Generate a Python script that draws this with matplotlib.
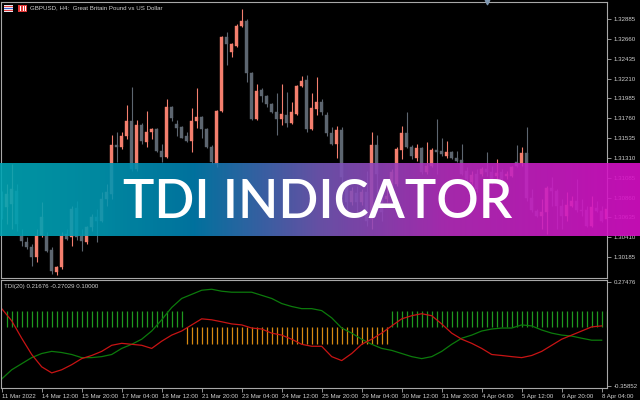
import numpy as np
import matplotlib
matplotlib.use("Agg")
import matplotlib.pyplot as plt
from matplotlib.colors import LinearSegmentedColormap
from matplotlib.patches import Rectangle

plt.rcParams["font.family"] = ["Liberation Sans", "DejaVu Sans"]

# GBPUSD H4 candles, 11 Mar 2022 .. 8 Apr 2022
opens = [1.30864, 1.30751, 1.30785, 1.30931, 1.30423, 1.30355, 1.30298, 1.30185, 1.30434, 1.30423,
         1.30264, 1.30015, 1.30072, 1.30445, 1.30411, 1.30739, 1.30423, 1.30355, 1.30524, 1.30637,
         1.30592, 1.30841, 1.30897, 1.31452, 1.31429, 1.31554, 1.31735, 1.31180, 1.31689, 1.31486,
         1.31610, 1.31644, 1.31384, 1.31316, 1.31893, 1.31701, 1.31667, 1.31554, 1.31497, 1.31735,
         1.31780, 1.31644, 1.31440, 1.31237, 1.31848, 1.32685, 1.32515, 1.32583, 1.32809, 1.32865,
         1.32277, 1.31757, 1.32085, 1.32017, 1.31927, 1.31836, 1.31757, 1.31802, 1.31712, 1.31814,
         1.32130, 1.32195, 1.31644, 1.31870, 1.31949, 1.31802, 1.31588, 1.31463, 1.31633, 1.31022,
         1.30807, 1.30909, 1.30807, 1.30920, 1.30615, 1.31452, 1.30897, 1.30841, 1.30875, 1.31011,
         1.31395, 1.31588, 1.31440, 1.31305, 1.31418, 1.31146, 1.31214, 1.31395, 1.31384, 1.31327,
         1.31373, 1.31305, 1.31282, 1.31158, 1.31033, 1.31124, 1.31124, 1.31180, 1.31146, 1.31101,
         1.31146, 1.31101, 1.31101, 1.31259, 1.31248, 1.31361, 1.30852, 1.30705, 1.30649, 1.30694,
         1.30965, 1.30931, 1.30762, 1.30649, 1.30762, 1.30818, 1.30717, 1.30717, 1.30535, 1.30739,
         1.30705, 1.30615]
highs = [1.30931, 1.31011, 1.31237, 1.31011, 1.30502, 1.30411, 1.30332, 1.30502, 1.30807, 1.30468,
         1.30298, 1.30083, 1.30468, 1.30502, 1.30762, 1.30818, 1.30502, 1.30535, 1.30671, 1.30728,
         1.30920, 1.31011, 1.31576, 1.31599, 1.31610, 1.31915, 1.32119, 1.31746, 1.31712, 1.31848,
         1.31655, 1.31655, 1.31474, 1.31983, 1.31904, 1.31746, 1.31678, 1.31610, 1.31882, 1.32108,
         1.31791, 1.31655, 1.31452, 1.31859, 1.32696, 1.32741, 1.32617, 1.32832, 1.33001, 1.32888,
         1.32289, 1.32153, 1.32108, 1.32029, 1.31938, 1.32051, 1.32153, 1.32062, 1.31949, 1.32142,
         1.32243, 1.32255, 1.32051, 1.32232, 1.31983, 1.31836, 1.31667, 1.31678, 1.31667, 1.31067,
         1.30977, 1.30988, 1.30954, 1.31158, 1.31610, 1.31565, 1.30988, 1.30988, 1.31180, 1.31429,
         1.31678, 1.31836, 1.31452, 1.31474, 1.31429, 1.31486, 1.31418, 1.31757, 1.31531, 1.31508,
         1.31384, 1.31384, 1.31463, 1.31203, 1.31158, 1.31180, 1.31203, 1.31373, 1.31214, 1.31293,
         1.31180, 1.31158, 1.31214, 1.31452, 1.31429, 1.31667, 1.30954, 1.30728, 1.30841, 1.30988,
         1.31090, 1.30954, 1.30841, 1.30920, 1.30875, 1.31067, 1.30841, 1.30762, 1.30875, 1.30818,
         1.30762, 1.30785]
lows = [1.30615, 1.30558, 1.30502, 1.30479, 1.30309, 1.30275, 1.30083, 1.30128, 1.30411, 1.30241,
        1.29993, 1.29981, 1.30049, 1.30377, 1.30309, 1.30377, 1.30253, 1.30332, 1.30479, 1.30355,
        1.30581, 1.30762, 1.30841, 1.31259, 1.31406, 1.31520, 1.31158, 1.31158, 1.31474, 1.31440,
        1.31520, 1.31373, 1.31259, 1.31305, 1.31735, 1.31554, 1.31531, 1.31486, 1.31373, 1.31655,
        1.31542, 1.31418, 1.31237, 1.31203, 1.31836, 1.32368, 1.32458, 1.32571, 1.32798, 1.32176,
        1.31746, 1.31746, 1.31949, 1.31893, 1.31825, 1.31565, 1.31689, 1.31667, 1.31701, 1.31802,
        1.32119, 1.31599, 1.31633, 1.31802, 1.31802, 1.31554, 1.31452, 1.31305, 1.31011, 1.30694,
        1.30773, 1.30694, 1.30773, 1.30535, 1.30502, 1.30694, 1.30592, 1.30807, 1.30841, 1.30988,
        1.31293, 1.31418, 1.31293, 1.31271, 1.31124, 1.31124, 1.31203, 1.31124, 1.31327, 1.31305,
        1.31293, 1.31259, 1.31112, 1.31045, 1.31011, 1.30920, 1.31101, 1.31101, 1.31011, 1.31067,
        1.31045, 1.31067, 1.31090, 1.31203, 1.31214, 1.30818, 1.30694, 1.30637, 1.30502, 1.30445,
        1.30762, 1.30502, 1.30502, 1.30592, 1.30751, 1.30694, 1.30649, 1.30524, 1.30524, 1.30694,
        1.30581, 1.30592]
closes = [1.30705, 1.30897, 1.30954, 1.30558, 1.30366, 1.30298, 1.30185, 1.30423, 1.30637, 1.30253,
          1.30027, 1.30072, 1.30423, 1.30389, 1.30728, 1.30411, 1.30366, 1.30524, 1.30637, 1.30592,
          1.30841, 1.30920, 1.31452, 1.31429, 1.31554, 1.31735, 1.31180, 1.31689, 1.31497, 1.31610,
          1.31644, 1.31384, 1.31316, 1.31893, 1.31768, 1.31655, 1.31542, 1.31497, 1.31735, 1.31780,
          1.31644, 1.31429, 1.31259, 1.31848, 1.32685, 1.32605, 1.32605, 1.32809, 1.32865, 1.32277,
          1.31757, 1.32074, 1.32017, 1.31927, 1.31836, 1.31757, 1.31814, 1.31712, 1.31836, 1.32130,
          1.32187, 1.31644, 1.31882, 1.31949, 1.31836, 1.31588, 1.31463, 1.31633, 1.31090, 1.30807,
          1.30931, 1.30807, 1.30920, 1.30592, 1.31452, 1.31124, 1.30694, 1.30875, 1.31146, 1.31406,
          1.31588, 1.31429, 1.31327, 1.31418, 1.31146, 1.31214, 1.31395, 1.31373, 1.31350, 1.31373,
          1.31305, 1.31271, 1.31124, 1.31067, 1.31112, 1.30954, 1.31180, 1.31146, 1.31067, 1.31135,
          1.31067, 1.31124, 1.31203, 1.31214, 1.31361, 1.30852, 1.30717, 1.30649, 1.30694, 1.30965,
          1.30931, 1.30762, 1.30649, 1.30773, 1.30818, 1.30717, 1.30705, 1.30535, 1.30751, 1.30705,
          1.30592, 1.30728]

price_ticks = [1.30185, 1.30410, 1.30635, 1.30860, 1.31085, 1.31310, 1.31535,
               1.31760, 1.31985, 1.32210, 1.32435, 1.32660, 1.32885]

date_labels = ["11 Mar 2022", "14 Mar 12:00", "15 Mar 20:00", "17 Mar 04:00", "18 Mar 12:00",
               "21 Mar 20:00", "23 Mar 04:00", "24 Mar 12:00", "25 Mar 20:00", "29 Mar 04:00",
               "30 Mar 12:00", "31 Mar 20:00", "4 Apr 04:00", "5 Apr 12:00", "6 Apr 20:00",
               "8 Apr 04:00"]

# TDI lines, one reading every 2 bars
tdi_red = [0.113, 0.039, -0.067, -0.166, -0.241, -0.278, -0.259, -0.228, -0.191, -0.172,
           -0.147, -0.110, -0.098, -0.104, -0.110, -0.129, -0.085, -0.048, -0.023, 0.014,
           0.051, 0.045, 0.033, 0.020, 0.014, -0.005, -0.011, -0.036, -0.048, -0.073,
           -0.104, -0.116, -0.116, -0.179, -0.203, -0.160, -0.104, -0.073, -0.036, 0.008,
           0.051, 0.070, 0.082, 0.070, 0.020, -0.036, -0.073, -0.098, -0.129, -0.166,
           -0.172, -0.179, -0.185, -0.172, -0.147, -0.110, -0.073, -0.048, -0.023, 0.002,
           0.008]
tdi_green = [-0.315, -0.259, -0.222, -0.185, -0.160, -0.147, -0.154, -0.166, -0.185, -0.185,
             -0.179, -0.166, -0.129, -0.104, -0.073, -0.023, 0.045, 0.120, 0.175, 0.200,
             0.225, 0.231, 0.219, 0.213, 0.213, 0.213, 0.194, 0.175, 0.144, 0.126,
             0.113, 0.113, 0.101, 0.057, -0.005, -0.036, -0.073, -0.104, -0.129, -0.141,
             -0.160, -0.179, -0.191, -0.179, -0.147, -0.104, -0.067, -0.048, -0.023, -0.011,
             -0.005, -0.005, 0.014, 0.008, -0.017, -0.036, -0.048, -0.054, -0.067, -0.079,
             -0.079]
# histogram runs: (value, number of bars)
hist_runs = [(0.0, 1), (0.1, 36), (-0.1, 41), (0.1, 44)]

n = len(opens)
idx = np.arange(n)
o = np.array(opens); h = np.array(highs); l = np.array(lows); c = np.array(closes)
up = c >= o

fig = plt.figure(figsize=(6.4, 4), dpi=100, facecolor="black")

ax = fig.add_axes([1/640, 1 - 277.5/400, 606/640, 276/400], facecolor="black")
ax2 = fig.add_axes([1/640, 1 - 387.5/400, 606/640, 108/400], facecolor="black")

bull, bear = "#f47f6e", "#5d6670"
cols = np.where(up, bull, bear)
ax.vlines(idx, l, h, colors=cols, lw=0.8)
body_lo = np.minimum(o, c)
body_h = np.maximum(np.abs(c - o), 0.00003)
ax.bar(idx, body_h, bottom=body_lo, width=0.62, color=cols, edgecolor=cols, lw=0.3)

ax.set_xlim(-0.14, 121.06)
ax.set_ylim(1.29953, 1.33086)
ax.yaxis.tick_right()
ax.set_yticks(price_ticks)
ax.set_yticklabels(["%.5f" % t for t in price_ticks])
ax.set_xticks([])
ax.scatter([97], [1.33086], marker="v", s=10, color="#7f97b0", clip_on=False, zorder=5)

# indicator panel
hist = []
for v, k in hist_runs:
    hist += [v] * k
hist = np.array(hist)
hcols = np.where(hist > 0, "#1f9a1f", "#d88a12").astype(object)
hcols[-1] = "#22e022"
ax2.vlines(idx, 0, hist, colors=list(hcols), lw=0.9)
xl = np.arange(0, 2 * len(tdi_red), 2)
ax2.plot(xl, tdi_green, color="#0c7a0c", lw=0.9)
ax2.plot(xl, tdi_red, color="#c81414", lw=0.9)
ax2.set_xlim(-0.14, 121.06)
ax2.set_ylim(-0.3668, 0.2903)
ax2.yaxis.tick_right()
ax2.set_yticks([0.27476, -0.35852])
ax2.set_yticklabels(["0.27476", "-0.35852"])
ax2.set_xticks(np.arange(0, 121, 8))
ax2.set_xticklabels(date_labels, ha="left")

for a in (ax, ax2):
    for s in a.spines.values():
        s.set_color("#a8a8a8")
        s.set_linewidth(0.8)
    a.tick_params(colors="#a8a8a8", labelcolor="#d0d0d0", labelsize=4.4, length=3,
                  width=0.6, pad=1.5)

ax2.text(0.005, 0.955, "TDI(20) 0.21676 -0.27029 0.10000", transform=ax2.transAxes,
         color="#d0d0d0", fontsize=4.4, va="top", ha="left")
ax.text(29/606, 1 - 6.5/276, "GBPUSD, H4:  Great Britain Pound vs US Dollar",
        transform=ax.transAxes, color="#d0d0d0", fontsize=4.4, va="center", ha="left")

# little symbol icons in the header
fig.add_artist(Rectangle((4/640, 1 - 12/400), 9/640, 7/400, transform=fig.transFigure,
                         facecolor="#e8e8f0", edgecolor="none"))
for yy, cc in [(6, "#e04040"), (8, "#4060d0"), (10, "#e04040")]:
    fig.add_artist(Rectangle((4/640, 1 - (yy + 1)/400), 9/640, 1/400,
                             transform=fig.transFigure, facecolor=cc, edgecolor="none"))
fig.add_artist(Rectangle((18/640, 1 - 12/400), 9/640, 7/400, transform=fig.transFigure,
                         facecolor="#e03838", edgecolor="none"))
for xx in (19.5, 22.5, 25):
    fig.add_artist(Rectangle((xx/640, 1 - 11/400), 1/640, 5/400, transform=fig.transFigure,
                             facecolor="white", edgecolor="none"))

# gradient banner
bcmap = LinearSegmentedColormap.from_list("banner", [
    (0.0, (0.00, 0.65, 0.71)),
    (0.15, (0.00, 0.60, 0.70)),
    (0.30, (0.00, 0.50, 0.69)),
    (0.50, (0.45, 0.35, 0.72)),
    (0.70, (0.72, 0.18, 0.75)),
    (1.0, (0.85, 0.06, 0.78)),
])
axb = fig.add_axes([0, 1 - 236/400, 1, 73/400])
axb.imshow(np.linspace(0, 1, 256)[None, :], cmap=bcmap, aspect="auto",
           extent=[0, 1, 0, 1], alpha=0.9)
axb.set_xlim(0, 1)
axb.set_ylim(0, 1)
axb.axis("off")
axb.text(0.496, 0.46, "TDI INDICATOR", color="white", fontsize=38, family="Lato",
         weight="semibold", ha="center", va="center")

fig.savefig("out.png", dpi=100, facecolor="black")
